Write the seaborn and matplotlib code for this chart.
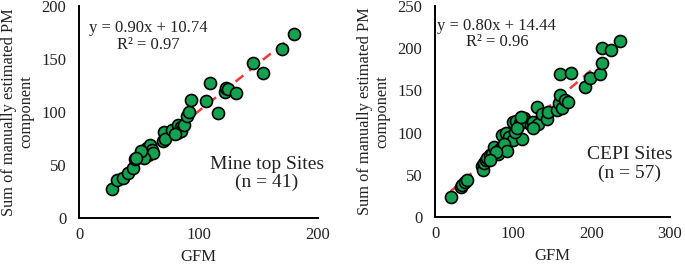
import numpy as np
import pandas as pd
import matplotlib
matplotlib.use("Agg")
import matplotlib.pyplot as plt
import seaborn as sns

# ---- data ----
mine_gfm = [28, 32, 37, 41, 45, 47, 50, 53, 55, 57, 59, 61, 58, 62, 54, 52, 70, 71, 72, 78,
            82, 83, 85, 85, 88, 90, 92, 94, 106, 110, 116, 122, 123, 125, 131, 146, 154, 170, 180, 80, 48]
mine_sum = [27, 36, 38, 42, 47, 56, 58, 61, 64, 66, 69, 64, 59, 61, 57, 63, 73, 81, 75, 83,
            80, 88, 86, 82, 88, 96, 100, 111, 110, 127, 99, 119, 123, 122, 118, 146, 137, 159, 174, 79, 57]
mine_slope, mine_intercept, mine_r2 = 0.90, 10.74, 0.97

cepi_gfm = [20, 33, 35, 38, 41, 60, 61, 63, 65, 67, 70, 73, 76, 80, 75, 83, 86, 85, 90, 94,
            100, 111, 102, 99, 104, 108, 114, 118, 122, 125, 130, 132, 137, 143, 144, 156, 158, 160, 162, 166,
            170, 160, 173, 191, 198, 210, 213, 213, 225, 236, 88, 92, 78, 105, 110, 125, 70]
cepi_sum = [24, 35, 38, 41, 44, 61, 56, 64, 67, 70, 73, 75, 80, 75, 83, 80, 83, 97, 99, 95,
            91, 92, 101, 112, 114, 111, 117, 113, 109, 113, 130, 110, 122, 116, 124, 127, 135, 144, 129, 139,
            136, 170, 171, 154, 165, 170, 182, 200, 198, 209, 86, 78, 77, 105, 118, 106, 68]
cepi_slope, cepi_intercept, cepi_r2 = 0.80, 14.44, 0.96

x_label = "GFM"
y_label = "Sum of manually estimated PM\ncomponent"

sns.set_style("white")
plt.rcParams["font.family"] = ["Liberation Serif", "DejaVu Serif"]

fig = plt.figure(figsize=(6.85, 2.66), dpi=100)
ax1 = fig.add_axes([79/685, 48/266, 239/685, 212/266])
ax2 = fig.add_axes([435/685, 49/266, 235/685, 211/266])

GREEN = "#13a24f"
RED = "#f03a3a"
TXT = "#222222"

def panel(ax, xs, ys, slope, intercept, r2, xlim, ylim, xticks, yticks,
          eq_xy, site, n, site_xy):
    df = pd.DataFrame({"x": xs, "y": ys})
    xx = np.array([min(xs), max(xs)], dtype=float)
    ax.plot(xx, slope * xx + intercept, color=RED, lw=1.8, dashes=(4, 3), zorder=1)
    sns.scatterplot(data=df, x="x", y="y", ax=ax, color=GREEN, edgecolor="black",
                    linewidth=1.2, s=75, zorder=3, legend=False)
    ax.set_xlim(*xlim)
    ax.set_ylim(*ylim)
    ax.set_xticks(xticks)
    ax.set_yticks(yticks)
    for s in ["top", "right"]:
        ax.spines[s].set_visible(False)
    for s in ["left", "bottom"]:
        ax.spines[s].set_color("black")
        ax.spines[s].set_linewidth(1.4)
    ax.tick_params(axis="x", direction="inout", length=7, width=1.3, labelsize=12,
                   colors="black", labelcolor=TXT, pad=3)
    ax.tick_params(axis="y", direction="out", length=4, width=1.3, labelsize=12,
                   colors="black", labelcolor=TXT, pad=5)
    ax.set_xlabel(x_label, fontsize=12, color=TXT, labelpad=4)
    ax.set_ylabel(y_label, fontsize=11.8, color=TXT, labelpad=5, linespacing=1.1)
    ax.text(eq_xy[0], eq_xy[1],
            f"y = {slope:.2f}x + {intercept:.2f}\nR² = {r2:.2f}",
            ha="center", va="center", fontsize=12, color=TXT, linespacing=1.05)
    ax.text(site_xy[0], site_xy[1], f"{site}\n(n = {n})",
            ha="center", va="center", fontsize=14, color=TXT, linespacing=1.1)

panel(ax1, mine_gfm, mine_sum, mine_slope, mine_intercept, mine_r2,
      (0, 200), (0, 200), [0, 100, 200], [0, 50, 100, 150, 200],
      (58, 171), "Mine top Sites", len(mine_gfm), (157, 42))
panel(ax2, cepi_gfm, cepi_sum, cepi_slope, cepi_intercept, cepi_r2,
      (0, 300), (0, 250), [0, 100, 200, 300], [0, 50, 100, 150, 200, 250],
      (79, 217), "CEPI Sites", len(cepi_gfm), (248, 63))

fig.savefig("out.png", dpi=100)
